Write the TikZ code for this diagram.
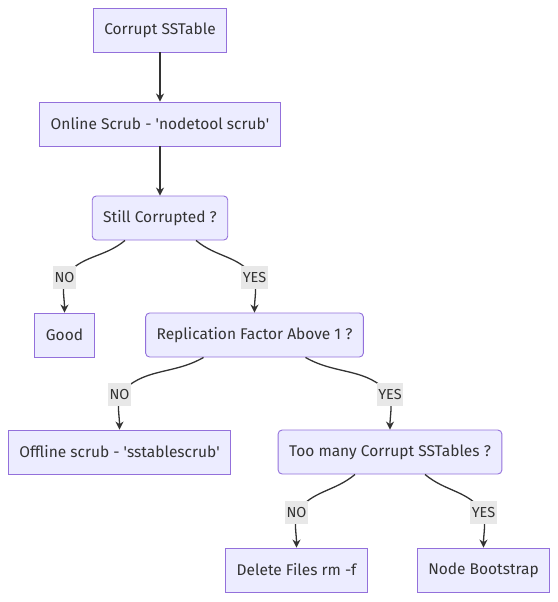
\documentclass[tikz,border=0pt]{standalone}
\usepackage{fontspec}
\setmainfont{Fira Sans}
\usetikzlibrary{arrows.meta,calc}
\definecolor{boxfill}{HTML}{ECECFF}
\definecolor{boxline}{HTML}{9370DB}
\definecolor{ink}{HTML}{333333}
\definecolor{lblfill}{HTML}{E8E8E8}

\begin{document}
\begin{tikzpicture}[x=1pt,y=-1pt,->,>={Stealth[length=8pt,width=8pt]},line width=1.3pt,draw=ink,
    box node/.style={draw=boxline,fill=boxfill,line width=0.9pt,text=ink,minimum height=44pt,inner xsep=11pt,font=\fontsize{15.5}{18}\selectfont},
    ask node/.style={box node,rounded corners=4pt},
    lbl/.style={fill=lblfill,text=ink,inner xsep=1.5pt,minimum height=23pt,font=\fontsize{14.5}{17}\selectfont}]
            \useasboundingbox (0,0) rectangle (557,602);

            \node[box node] (corrupt) at (160,30) {Corrupt SSTable};
            \node[box node] (online) at (160,124) {Online Scrub - \textquotesingle nodetool scrub\textquotesingle};
            \node[ask node] (still) at (160,218) {Still Corrupted ?};

            \node[box node] (good) at (64.5,335) {Good};
            \node[ask node] (repl) at (254.5,335) {Replication Factor Above 1 ?};

            \node[box node] (offline) at (119.5,452) {Offline scrub - \textquotesingle sstablescrub\textquotesingle};
            \node[ask node] (many) at (390,452) {Too many Corrupt SSTables ?};

            \node[box node] (delete) at (296.5,570) {Delete Files rm -f};
            \node[box node] (boot) at (483.5,570) {Node Bootstrap};

            % label spots, 35pt above each target box
            \coordinate (goodlbl) at ($(good.north)+(0,-35)$);
            \coordinate (repllbl) at ($(repl.north)+(0,-35)$);
            \coordinate (offlbl) at ($(offline.north)+(0,-35)$);
            \coordinate (manylbl) at ($(many.north)+(0,-35)$);
            \coordinate (dellbl) at ($(delete.north)+(0,-35)$);
            \coordinate (bootlbl) at ($(boot.north)+(0,-35)$);

            \path
                (corrupt) edge (online)
                (online) edge (still);

            \draw ([xshift=-35pt]still.south) to[out=-140,in=55] (goodlbl) node[lbl] {NO} to[out=-100,in=90] (good.north);
            \draw ([xshift=36pt]still.south) to[out=-40,in=125] (repllbl) node[lbl] {YES} to[out=-80,in=90] (repl.north);

            \draw ([xshift=-51pt]repl.south) to[out=-150,in=50] (offlbl) node[lbl] {NO} to[out=-100,in=90] (offline.north);
            \draw ([xshift=51pt]repl.south) to[out=-30,in=130] (manylbl) node[lbl] {YES} to[out=-80,in=90] (many.north);

            \draw ([xshift=-35pt]many.south) to[out=-140,in=55] (dellbl) node[lbl] {NO} to[out=-100,in=90] (delete.north);
            \draw ([xshift=35pt]many.south) to[out=-40,in=125] (bootlbl) node[lbl] {YES} to[out=-80,in=90] (boot.north);
        \end{tikzpicture}
\end{document}
